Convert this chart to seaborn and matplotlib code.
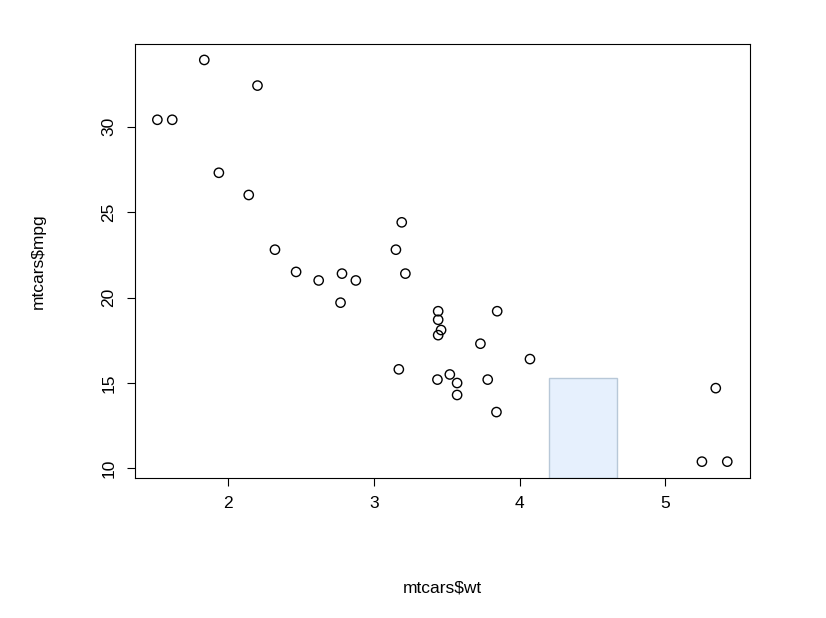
import matplotlib
matplotlib.use("Agg")
import matplotlib.pyplot as plt
import seaborn as sns
import pandas as pd
from matplotlib.patches import Rectangle

wt = [2.620, 2.875, 2.320, 3.215, 3.440, 3.460, 3.570, 3.190, 3.150, 3.440, 3.440,
      4.070, 3.730, 3.780, 5.250, 5.424, 5.345, 2.200, 1.615, 1.835, 2.465, 3.520,
      3.435, 3.840, 3.845, 1.935, 2.140, 1.513, 3.170, 2.770, 3.570, 2.780]
mpg = [21.0, 21.0, 22.8, 21.4, 18.7, 18.1, 14.3, 24.4, 22.8, 19.2, 17.8,
       16.4, 17.3, 15.2, 10.4, 10.4, 14.7, 32.4, 30.4, 33.9, 21.5, 15.5,
       15.2, 13.3, 19.2, 27.3, 26.0, 30.4, 15.8, 19.7, 15.0, 21.4]
rect_x = [4.20, 4.67]
rect_top = 15.3

df = pd.DataFrame({"wt": wt, "mpg": mpg})
sns.set_style("white")
plt.rcParams['font.family'] = ['Liberation Sans', 'DejaVu Sans']
plt.rcParams['text.color'] = 'black'
plt.rcParams['axes.labelcolor'] = 'black'
plt.rcParams['xtick.color'] = 'black'
plt.rcParams['ytick.color'] = 'black'

fig = plt.figure(figsize=(8.26, 6.18), dpi=100)
ax = fig.add_axes([0.163, 0.227, 0.745, 0.702])
xlo, xhi = 1.357, 5.58
ylo, yhi = 9.46, 34.84
ax.add_patch(Rectangle((rect_x[0], ylo), rect_x[1]-rect_x[0], rect_top-ylo,
                       facecolor="#e6f0fd", edgecolor="#b8c8d8", lw=1, zorder=1))
sns.scatterplot(data=df, x="wt", y="mpg", ax=ax, facecolor="none", edgecolor="black",
                s=45, linewidth=1, zorder=3)
ax.set_xlim(xlo, xhi); ax.set_ylim(ylo, yhi)
ax.set_xticks([2, 3, 4, 5]); ax.set_yticks([10, 15, 20, 25, 30])
for t in ax.get_yticklabels():
    t.set_rotation(90); t.set_va("center")
ax.tick_params(axis="both", length=6, width=0.8, labelsize=12.5, direction="out",
               bottom=True, left=True, pad=7)
for s in ax.spines.values():
    s.set_color("black"); s.set_linewidth(0.8)
ax.set_xlabel("mtcars$wt", fontsize=12.5, labelpad=50)
ax.set_ylabel("mtcars$mpg", fontsize=12.5, labelpad=40)
fig.savefig("out.png", dpi=100)
